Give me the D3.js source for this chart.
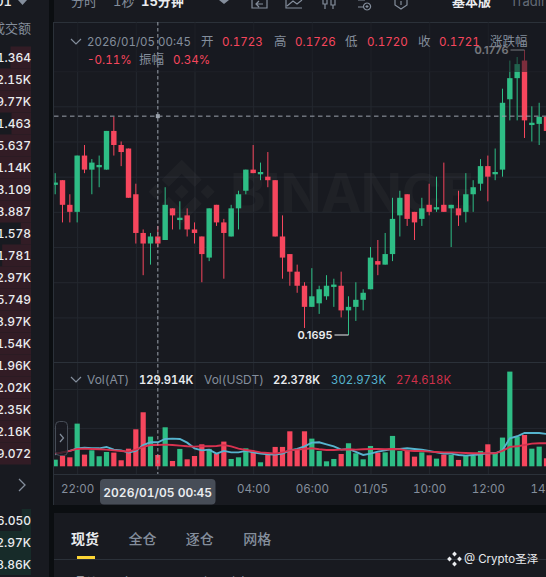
<!DOCTYPE html>
<html><head><meta charset="utf-8">
<script src="https://cdn.jsdelivr.net/npm/d3@7"></script>
<style>html,body{margin:0;padding:0;background:#181A20;overflow:hidden}svg{display:block}
text{font-family:Inter,"Noto Sans CJK SC",sans-serif;font-feature-settings:"tnum" 1;font-variant-numeric:tabular-nums}
.prop{font-feature-settings:normal;font-variant-numeric:normal}</style></head><body><div id="c"></div>
<script>
const opens=[.1738,.1739,.1732,.1730,.1746,.1742,.1743,.1742,.1753,.1749,.1748,.1735,.1724,.1721,.1723,.1722,.1731,.1728,.1729,.1725,.1723,.1717,.1732,.1727,.1723,.1731,.1736,.1742,.1741,.1740,.1739,.1723,.1718,.1713,.1709,.1703,.1704,.1706,.1709,.1709,.1702,.1703,.1705,.1708,.1716,.1715,.1718,.1729,.1735,.1730,.1728,.1732,.1731,.1732,.1731,.1731,.1730,.1735,.1738,.1743,.1741,.1742,.1762,.1768,.1773,.1755,.1755,.1757];
const highs=[.1741,.1739,.1735,.1746,.1749,.1745,.1746,.1753,.1757,.1750,.1748,.1738,.1725,.1724,.1726,.1737,.1731,.1733,.1731,.1727,.1723,.1731,.1732,.1728,.1732,.1736,.1742,.1749,.1744,.1747,.1739,.1729,.1718,.1715,.1710,.1714,.1709,.1712,.1711,.1713,.1706,.1710,.1708,.1720,.1722,.1724,.1734,.1736,.1735,.1730,.1734,.1738,.1740,.1744,.1732,.1736,.1741,.1739,.1745,.1746,.1748,.1765,.1773,.1774,.1776,.1760,.1761,.1757];
const lows=[.1735,.1727,.1727,.1727,.1741,.1735,.1737,.1742,.1746,.1743,.1734,.1721,.1712,.1715,.1720,.1722,.1725,.1725,.1723,.1721,.1710,.1716,.1726,.1711,.1723,.1725,.1735,.1741,.1739,.1737,.1723,.1711,.1709,.1707,.1697,.1703,.1701,.1705,.1703,.1700,.1695,.1699,.1702,.1708,.1712,.1715,.1716,.1723,.1726,.1722,.1726,.1729,.1730,.1730,.1720,.1726,.1727,.1730,.1736,.1733,.1739,.1740,.1756,.1756,.1751,.1750,.1749,.1753];
const closes=[.1738,.1732,.1730,.1746,.1742,.1744,.1743,.1753,.1749,.1747,.1734,.1724,.1721,.1723,.1721,.1732,.1729,.1728,.1725,.1724,.1718,.1731,.1727,.1724,.1731,.1735,.1742,.1741,.1741,.1739,.1723,.1717,.1713,.1709,.1703,.1706,.1708,.1709,.1709,.1702,.1703,.1705,.1707,.1717,.1715,.1718,.1728,.1734,.1728,.1727,.1731,.1730,.1731,.1730,.1732,.1729,.1735,.1737,.1743,.1740,.1741,.1761,.1768,.1772,.1756,.1755,.1757,.1753];
const volumes=[76,122,103,489,134,183,115,164,157,69,202,424,619,340,130,447,61,199,80,118,252,199,145,283,84,103,206,168,46,130,222,222,401,191,401,317,176,57,84,141,264,149,80,233,157,160,348,176,176,111,160,126,88,134,130,73,130,122,176,252,157,329,1085,340,359,202,225,92];
const maBlue=[138,160,176,206,214,206,206,222,191,183,157,176,244,275,275,313,317,313,271,206,183,191,145,176,160,160,176,160,145,138,134,145,183,199,229,271,275,252,229,191,199,164,130,145,168,183,199,199,206,199,191,176,160,145,145,130,122,130,138,149,149,183,321,344,382,382,382,371];
const maRed=[145,160,176,199,202,199,195,191,183,176,168,191,222,244,244,248,244,237,229,225,229,229,233,244,229,202,187,176,160,153,145,160,183,191,199,206,195,187,187,191,195,191,195,199,199,195,199,195,180,176,176,168,164,160,160,157,153,149,149,149,149,176,222,229,244,260,264,264];
const gridTickIdx=[3,11,19,27,35,43,51,59,67];
const timeTickIdx=[3,27,35,43,51,59,67];
const timeTickLabels=["22:00","04:00","06:00","01/05","10:00","12:00","14:00"];
const priceGrid=[.170,.171,.172,.173,.174,.175,.176,.177];
const volumeGrid=[440,885];
const crossIdx=14, crossPrice=.17572, crossLabel="2026/01/05 00:45";
const sellRows=["1.364","2.15K","9.77K","1.463","5.637","1.14K","3.109","3.887","1.578","1.781","2.97K","5.749","3.97K","1.54K","1.96K","2.02K","2.35K","2.16K","9.072"];
const sellDepth=[.66,1,1,.63,1,1,1,1,.33,.93,1,1,1,1,1,1,1,1,1];
const buyRows=["6.050","2.97K","8.86K"];
const buyDepth=[.3,1,1];
const legendTop=[["2026/01/05 00:45",87,"g",11.5],["开",201,"g",12.5],["0.1723",222,"r",11.6],["高",274,"g",12.5],["0.1726",295,"r",11.6],["低",345,"g",12.5],["0.1720",367,"r",11.6],["收",418,"g",12.5],["0.1721",439,"r",11.6],["涨跌幅",490,"g",12.5]];
const legendTop2=[["-0.11%",87,"r",11.6],["振幅",139,"g",12.5],["0.34%",173,"r",11.6]];
const legendVol=[["Vol(AT)",87,"g",12],["129.914K",139,"w",11.2],["Vol(USDT)",204,"g",12],["22.378K",273,"w",11.2],["302.973K",331,"b",11.4],["274.618K",396,"m",11.4]];
const tabs=["现货","全仓","逐仓","网格"];

const RED="#F6465D",GREEN="#2EBD85",BG="#181A20",GRID="#24282F",LINE="#2B3139",GRAY="#848E9C",WHITE="#EAECEF";
const W=546,H=577;
const svg=d3.select("#c").append("svg").attr("width",W).attr("height",H);
const defs=svg.append("defs");
defs.append("clipPath").attr("id","chart").append("rect").attr("x",54).attr("y",22).attr("width",W-54).attr("height",453);
defs.append("clipPath").attr("id","axis").append("rect").attr("x",54).attr("y",475).attr("width",W-54).attr("height",30);

const x=d3.scaleLinear().domain([0,67]).range([55.17,546.5]);
const y=d3.scaleLinear().domain([.1695,.1776]).range([335,50]);
const yv=d3.scaleLinear().domain([0,1085]).range([466.3,371.6]);
const cols={g:GRAY,r:RED,w:WHITE,b:"#56B4CE",m:"#CF304A"};
const t=(p,a,b,s,c,o={})=>p.append("text").attr("x",a).attr("y",b).attr("fill",c).attr("font-size",s).attr("font-weight",o.w||400).attr("text-anchor",o.a||"start").text(o.t);

// panels
svg.append("rect").attr("x",49).attr("y",0).attr("width",5).attr("height",H).attr("fill","#0B0E11");
svg.append("rect").attr("x",54).attr("y",505).attr("width",W-54).attr("height",8).attr("fill","#0B0E11");
svg.append("rect").attr("x",53).attr("y",22).attr("width",1).attr("height",483).attr("fill",LINE);

// left sidebar
const side=svg.append("g");
t(side,31,33,13,GRAY,{a:"end",t:"成交额"});
t(side,12,6,13,WHITE,{a:"end",t:"01",w:500});
side.append("path").attr("d","M18 0L27 0L22.5 5Z").attr("fill",GRAY);
const sideX=d3.scaleLinear().domain([0,1]).range([31,0]);
sellRows.forEach((s,i)=>{
  const cy=57.5+22*i;
  side.append("rect").attr("x",sideX(sellDepth[i])).attr("y",cy-11).attr("width",31-sideX(sellDepth[i])).attr("height",22).attr("fill","#321C25");
  t(side,31,cy+4.5,12,WHITE,{a:"end",t:s,w:500});
});
buyRows.forEach((s,i)=>{
  const cy=520+22*i;
  side.append("rect").attr("x",sideX(buyDepth[i])).attr("y",cy-11).attr("width",31-sideX(buyDepth[i])).attr("height",22).attr("fill","#172B29");
  t(side,31,cy+4.5,12,WHITE,{a:"end",t:s,w:500});
});
side.append("path").attr("d","M19 479L25 485L19 491").attr("fill","none").attr("stroke",GRAY).attr("stroke-width",1.3);

// toolbar
const tb=svg.append("g");
t(tb,71,6,13,GRAY,{t:"分时"});
t(tb,113,6,13,GRAY,{t:"1秒"});
t(tb,141,6,13,WHITE,{t:"15分钟",w:700});
t(tb,452,6,13,WHITE,{t:"基本版",w:700});
t(tb,510,6,13,GRAY,{t:"Trading"}).attr("opacity",.7);
tb.append("path").attr("d","M219 0L229 0L224 4Z").attr("fill",GRAY);
const ic=tb.append("g").attr("fill","none").attr("stroke",GRAY).attr("stroke-width",1.2);
ic.append("path").attr("d","M252 0V8H267V0M263 4H256M259 1L256 4L259 7");
ic.append("path").attr("d","M286 0V8H302M287 6L293 1L297 4L302 0");
ic.append("path").attr("d","M323 0V4H327V0M325 4V9M331 0V5H335V0M333 5V9");
ic.append("path").attr("d","M358 0H365M358 7H363M367 3a3.5 3.5 0 1 0 .1 0M367 5v3M365.5 6.5h3");
ic.append("path").attr("d","M395 0V5L401 9L407 5V0M401 1V5");
svg.append("rect").attr("x",54).attr("y",22).attr("width",W-54).attr("height",1).attr("fill",LINE);

// chart area
const chart=svg.append("g").attr("clip-path","url(#chart)");
const gx=chart.append("g").attr("transform","translate(0,474)")
  .call(d3.axisBottom(x).tickValues(gridTickIdx).tickSize(-452).tickFormat(""));
gx.select(".domain").remove(); gx.selectAll("line").attr("stroke",GRID);
const gy=chart.append("g").attr("transform","translate(54,0)")
  .call(d3.axisRight(y).tickValues(priceGrid).tickSize(W-54).tickFormat(""));
gy.select(".domain").remove(); gy.selectAll("line").attr("stroke",GRID);
const gv=chart.append("g").attr("transform","translate(54,0)")
  .call(d3.axisRight(yv).tickValues(volumeGrid).tickSize(W-54).tickFormat(""));
gv.select(".domain").remove(); gv.selectAll("line").attr("stroke",GRID);
chart.append("rect").attr("x",54).attr("y",362).attr("width",W-54).attr("height",1).attr("fill",LINE);
chart.append("rect").attr("x",54).attr("y",474).attr("width",W-54).attr("height",1).attr("fill",LINE);

// watermark
const wm=chart.append("g").attr("fill","#fff").attr("opacity",.028);
const lg=(cx,cy,k)=>{
  [[0,0],[-26,0],[26,0]].forEach(([a,b])=>wm.append("path").attr("d",`M${cx+a*k} ${cy+b*k-7*k}l${7*k} ${7*k}l${-7*k} ${7*k}l${-7*k} ${-7*k}Z`));
  wm.append("path").attr("d",`M${cx} ${cy-32*k}L${cx+20*k} ${cy-12*k}L${cx+13*k} ${cy-5*k}L${cx} ${cy-18*k}L${cx-13*k} ${cy-5*k}L${cx-20*k} ${cy-12*k}Z`);
  wm.append("path").attr("d",`M${cx} ${cy+32*k}L${cx+20*k} ${cy+12*k}L${cx+13*k} ${cy+5*k}L${cx} ${cy+18*k}L${cx-13*k} ${cy+5*k}L${cx-20*k} ${cy+12*k}Z`);
};
lg(181.7,191.7,1);
wm.append("text").attr("x",230).attr("y",212).attr("font-size",54).attr("font-weight",700).attr("textLength",244).attr("lengthAdjust","spacing").text("BINANCE");

// candles
const idx=d3.range(opens.length);
const colorOf=i=>closes[i]>=opens[i]?GREEN:RED;
chart.append("g").selectAll("rect").data(idx).join("rect")
  .attr("x",i=>x(i)-.5).attr("width",1).attr("y",i=>y(highs[i])).attr("height",i=>y(lows[i])-y(highs[i])).attr("fill",colorOf);
chart.append("g").selectAll("rect").data(idx).join("rect")
  .attr("x",i=>x(i)-2.7).attr("width",5.4)
  .attr("y",i=>opens[i]===closes[i]?y(opens[i])-1.15:Math.min(y(opens[i]),y(closes[i])))
  .attr("height",i=>Math.max(Math.abs(y(opens[i])-y(closes[i])),2.3)).attr("fill",colorOf);

// hi/lo marks
const hl=chart.append("g");
const hiX=x(64),hiY=y(.1776),loX=x(40),loY=y(.1695);
hl.append("line").attr("x1",hiX-14).attr("x2",hiX).attr("y1",hiY).attr("y2",hiY).attr("stroke",WHITE);
t(hl,hiX-16,hiY+4,11,WHITE,{a:"end",t:"0.1776",w:600}).attr("class","prop");
hl.append("line").attr("x1",loX-14).attr("x2",loX).attr("y1",loY).attr("y2",loY).attr("stroke",WHITE);
t(hl,loX-16,loY+4,11,WHITE,{a:"end",t:"0.1695",w:600}).attr("class","prop");

// legend veil
chart.append("rect").attr("x",54).attr("y",23).attr("width",W-54).attr("height",49).attr("fill",BG).attr("opacity",.55);

// volume
chart.append("g").selectAll("rect").data(idx).join("rect")
  .attr("x",i=>x(i)-2.6).attr("width",5.2).attr("y",i=>yv(volumes[i])).attr("height",i=>yv(0)-yv(volumes[i])).attr("fill",colorOf);
const ln=d3.line().x((d,i)=>x(i)).y(d=>yv(d));
chart.append("path").attr("d",ln(maBlue)).attr("fill","none").attr("stroke","#56B4CE").attr("stroke-width",1.9);
chart.append("path").attr("d",ln(maRed)).attr("fill","none").attr("stroke","#D8324F").attr("stroke-width",1.9);

// crosshair
const ch=chart.append("g").attr("stroke","#9AA1AC").attr("stroke-width",1);
ch.append("line").attr("x1",x(crossIdx)).attr("x2",x(crossIdx)).attr("y1",22).attr("y2",474).attr("stroke-dasharray","3.5 2.5");
ch.append("line").attr("x1",54).attr("x2",W).attr("y1",y(crossPrice)).attr("y2",y(crossPrice)).attr("stroke-dasharray","4.5 3.5");
chart.append("rect").attr("x",x(crossIdx)-2).attr("y",y(crossPrice)-2).attr("width",4).attr("height",4).attr("fill","#9AA1AC");

// legends
const chev=(a,b)=>svg.append("path").attr("d",`M${a-5} ${b-3}L${a} ${b+2}L${a+5} ${b-3}`).attr("fill","none").attr("stroke",GRAY).attr("stroke-width",1.2);
chev(76,42);chev(76,380);
legendTop.forEach(d=>t(svg,d[1],46,d[3],cols[d[2]],{t:d[0]}));
legendTop2.forEach(d=>t(svg,d[1],63.5,d[3],cols[d[2]],{t:d[0]}));
legendVol.forEach(d=>t(svg,d[1],384,d[3],cols[d[2]],{t:d[0],w:d[2]==="w"?600:400}));

// collapse handle
svg.append("rect").attr("x",55.5).attr("y",421.5).attr("width",12).attr("height",34).attr("rx",4).attr("fill",BG).attr("fill-opacity",.75).attr("stroke","#474D57");
svg.append("path").attr("d","M60 434L63.5 438L60 442").attr("fill","none").attr("stroke",GRAY).attr("stroke-width",1.2);

// time axis
const ax=svg.append("g").attr("clip-path","url(#axis)").append("g").attr("transform","translate(0,475)")
  .call(d3.axisBottom(x).tickValues(timeTickIdx).tickSize(0).tickPadding(10).tickFormat((d,i)=>timeTickLabels[i]));
ax.select(".domain").remove();
ax.selectAll("text").attr("fill",GRAY).attr("font-size",11.6).attr("font-family","Inter");
svg.append("rect").attr("x",100).attr("y",479).attr("width",115.5).attr("height",25.5).attr("rx",4).attr("fill","#474D57");
t(svg,157.7,496.5,12,WHITE,{a:"middle",t:crossLabel,w:600});

// tabs
tabs.forEach((s,i)=>t(svg,71+57.4*i,544,14,i?GRAY:WHITE,{t:s,w:i?500:700}));
svg.append("rect").attr("x",54).attr("y",559).attr("width",W-54).attr("height",1).attr("fill",LINE);
svg.append("rect").attr("x",77).attr("y",556).attr("width",18).attr("height",3).attr("fill","#FCD535");
t(svg,71,588,14,WHITE,{t:"现价",w:600});
t(svg,120,588,14,GRAY,{t:"市价"});
t(svg,170,588,14,GRAY,{t:"限价止盈止损"});

// footer watermark
const fm=svg.append("g").attr("fill","#EAECEF");
[[0,-5],[-5,0],[5,0],[0,5]].forEach(([a,b])=>fm.append("path").attr("d",`M${454.5+a} ${559+b-2.4}l2.4 2.4l-2.4 2.4l-2.4 -2.4Z`));
t(svg,464,563,11.5,"#EAECEF",{t:"@ Crypto圣泽"});
</script></body></html>
